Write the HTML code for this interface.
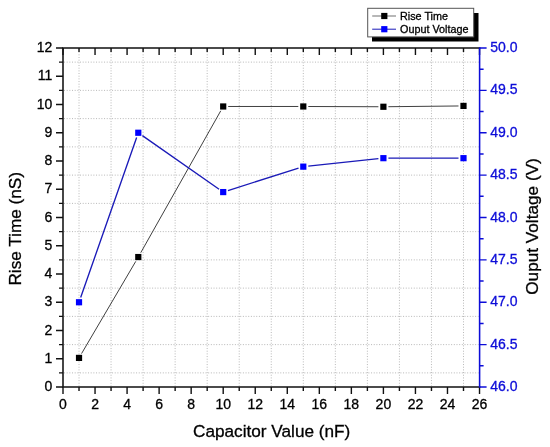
<!DOCTYPE html><html><head><meta charset="utf-8"><style>html,body{margin:0;padding:0;background:#fff;}svg{display:block;}text{font-family:"Liberation Sans",Arial,sans-serif;stroke-width:0.3px;}</style></head><body>
<svg width="550" height="447" viewBox="0 0 550 447">
<rect x="0" y="0" width="550" height="447" fill="#fff"/>
<path d="M79.02 49V386M111.06 49V386M143.1 49V386M175.14 49V386M207.18 49V386M239.22 49V386M271.26 49V386M303.3 49V386M335.34 49V386M367.38 49V386M399.42 49V386M431.46 49V386M463.5 49V386M64 372.88H478.6M64 344.62H478.6M64 316.38H478.6M64 288.12H478.6M64 259.88H478.6M64 231.62H478.6M64 203.38H478.6M64 175.12H478.6M64 146.88H478.6M64 118.62H478.6M64 90.38H478.6M64 62.12H478.6" stroke="#b8b8b8" stroke-width="1" stroke-dasharray="1 1.67" fill="none"/>
<path d="M63 387V394M63 48V55M79.02 387V391M79.02 48V52M95.04 387V394M95.04 48V55M111.06 387V391M111.06 48V52M127.08 387V394M127.08 48V55M143.1 387V391M143.1 48V52M159.12 387V394M159.12 48V55M175.14 387V391M175.14 48V52M191.16 387V394M191.16 48V55M207.18 387V391M207.18 48V52M223.2 387V394M223.2 48V55M239.22 387V391M239.22 48V52M255.24 387V394M255.24 48V55M271.26 387V391M271.26 48V52M287.28 387V394M287.28 48V55M303.3 387V391M303.3 48V52M319.32 387V394M319.32 48V55M335.34 387V391M335.34 48V52M351.36 387V394M351.36 48V55M367.38 387V391M367.38 48V52M383.4 387V394M383.4 48V55M399.42 387V391M399.42 48V52M415.44 387V394M415.44 48V55M431.46 387V391M431.46 48V52M447.48 387V394M447.48 48V55M463.5 387V391M463.5 48V52M479.52 387V394M479.52 48V55M63 387H56M63 372.88H59M63 358.75H56M63 344.62H59M63 330.5H56M63 316.38H59M63 302.25H56M63 288.12H59M63 274H56M63 259.88H59M63 245.75H56M63 231.62H59M63 217.5H56M63 203.38H59M63 189.25H56M63 175.12H59M63 161H56M63 146.88H59M63 132.75H56M63 118.62H59M63 104.5H56M63 90.38H59M63 76.25H56M63 62.12H59M63 48H56" stroke="#111" stroke-width="1.4" fill="none"/>
<path d="M63 387H479.6 M63 48H479.6 M63 48V387" stroke="#111" stroke-width="1.55" fill="none" stroke-linecap="square"/>
<path d="M479.6 387H486.6M479.6 365.81H483.6M479.6 344.62H486.6M479.6 323.44H483.6M479.6 302.25H486.6M479.6 281.06H483.6M479.6 259.88H486.6M479.6 238.69H483.6M479.6 217.5H486.6M479.6 196.31H483.6M479.6 175.12H486.6M479.6 153.94H483.6M479.6 132.75H486.6M479.6 111.56H483.6M479.6 90.38H486.6M479.6 69.19H483.6M479.6 48H486.6" stroke="#0c0cd8" stroke-width="1.4" fill="none"/>
<path d="M479.6 47.5V387.5" stroke="#0c0cd8" stroke-width="1.55" fill="none"/>
<path d="M81.55 353.59L135.76 261.36M140.75 252.69L220.74 110.83M228.2 106.48L298.3 106.48M308.3 106.5L378.4 106.74M388.4 106.71L458.5 105.97" stroke="#404040" stroke-width="1" fill="none"/>
<path d="M80.67 297.53L136.64 137.47M142.39 135.61L219.1 189.21M227.97 190.56L298.53 168.16M308.27 166.12L378.43 158.7M388.4 158.17L458.5 158.17" stroke="#1a1ab8" stroke-width="1.35" fill="none"/>
<rect x="75.92" y="354.8" width="6.2" height="6.2" fill="#000"/>
<rect x="135.19" y="253.95" width="6.2" height="6.2" fill="#000"/>
<rect x="220.1" y="103.38" width="6.2" height="6.2" fill="#000"/>
<rect x="300.2" y="103.38" width="6.2" height="6.2" fill="#000"/>
<rect x="380.3" y="103.66" width="6.2" height="6.2" fill="#000"/>
<rect x="460.4" y="102.81" width="6.2" height="6.2" fill="#000"/>
<rect x="75.92" y="299.15" width="6.2" height="6.2" fill="#0000ff"/>
<rect x="135.19" y="129.65" width="6.2" height="6.2" fill="#0000ff"/>
<rect x="220.1" y="188.98" width="6.2" height="6.2" fill="#0000ff"/>
<rect x="300.2" y="163.55" width="6.2" height="6.2" fill="#0000ff"/>
<rect x="380.3" y="155.07" width="6.2" height="6.2" fill="#0000ff"/>
<rect x="460.4" y="155.07" width="6.2" height="6.2" fill="#0000ff"/>
<g font-size="14" fill="#000" stroke="#000">
<text x="63" y="408.8" text-anchor="middle">0</text>
<text x="95.04" y="408.8" text-anchor="middle">2</text>
<text x="127.08" y="408.8" text-anchor="middle">4</text>
<text x="159.12" y="408.8" text-anchor="middle">6</text>
<text x="191.16" y="408.8" text-anchor="middle">8</text>
<text x="223.2" y="408.8" text-anchor="middle">10</text>
<text x="255.24" y="408.8" text-anchor="middle">12</text>
<text x="287.28" y="408.8" text-anchor="middle">14</text>
<text x="319.32" y="408.8" text-anchor="middle">16</text>
<text x="351.36" y="408.8" text-anchor="middle">18</text>
<text x="383.4" y="408.8" text-anchor="middle">20</text>
<text x="415.44" y="408.8" text-anchor="middle">22</text>
<text x="447.48" y="408.8" text-anchor="middle">24</text>
<text x="479.52" y="408.8" text-anchor="middle">26</text>
<text x="52.4" y="391" text-anchor="end">0</text>
<text x="52.4" y="362.75" text-anchor="end">1</text>
<text x="52.4" y="334.5" text-anchor="end">2</text>
<text x="52.4" y="306.25" text-anchor="end">3</text>
<text x="52.4" y="278" text-anchor="end">4</text>
<text x="52.4" y="249.75" text-anchor="end">5</text>
<text x="52.4" y="221.5" text-anchor="end">6</text>
<text x="52.4" y="193.25" text-anchor="end">7</text>
<text x="52.4" y="165" text-anchor="end">8</text>
<text x="52.4" y="136.75" text-anchor="end">9</text>
<text x="52.4" y="108.5" text-anchor="end">10</text>
<text x="52.4" y="80.25" text-anchor="end">11</text>
<text x="52.4" y="52" text-anchor="end">12</text>
</g>
<g font-size="14" fill="#0c0cd8" stroke="#0c0cd8">
<text x="490.2" y="391">46.0</text>
<text x="490.2" y="348.62">46.5</text>
<text x="490.2" y="306.25">47.0</text>
<text x="490.2" y="263.88">47.5</text>
<text x="490.2" y="221.5">48.0</text>
<text x="490.2" y="179.12">48.5</text>
<text x="490.2" y="136.75">49.0</text>
<text x="490.2" y="94.38">49.5</text>
<text x="490.2" y="52">50.0</text>
</g>
<text x="193" y="436.6" font-size="17.2" fill="#000" stroke="#000">Capacitor Value (nF)</text>
<text transform="translate(20.8,285.6) rotate(-90)" font-size="17.2" fill="#000" stroke="#000">Rise Time (nS)</text>
<text transform="translate(537.8,294.8) rotate(-90)" font-size="17.2" fill="#000" stroke="#000">Ouput Voltage (V)</text>
<rect x="372" y="13" width="106.5" height="28.5" fill="#000"/>
<rect x="367.7" y="8.3" width="106" height="28.6" fill="#fff" stroke="#555" stroke-width="1"/>
<path d="M372.2 16H396" stroke="#888" stroke-width="1.2"/>
<rect x="381.2" y="12.9" width="6.2" height="6.2" fill="#000"/>
<path d="M372.2 29.2H396" stroke="#1a1ab8" stroke-width="1"/>
<rect x="381.2" y="26.1" width="6.2" height="6.2" fill="#0000ff"/>
<text x="400" y="19.6" font-size="10.8" fill="#000" stroke="#000" stroke-width="0.2">Rise Time</text>
<text x="400" y="32.8" font-size="10.8" fill="#000" stroke="#000" stroke-width="0.2">Ouput Voltage</text>
</svg></body></html>
